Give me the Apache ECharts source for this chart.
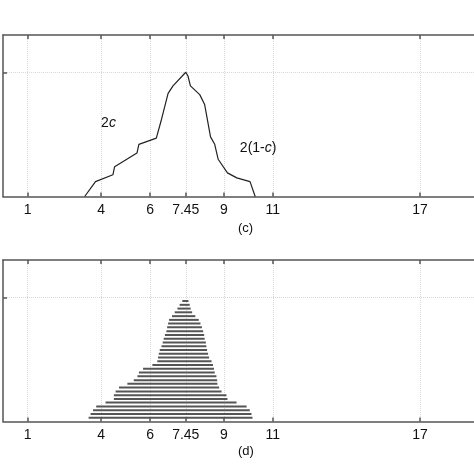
<!DOCTYPE html>
<html>
<head>
<meta charset="utf-8">
<script src="https://cdn.jsdelivr.net/npm/echarts@6/dist/echarts.min.js"></script>
<style>
html,body{margin:0;padding:0;background:#fff;}
#chart{width:474px;height:474px;}
</style>
</head>
<body>
<div id="chart"></div>
<script>
// x tick positions / labels
const xTicks = [1, 4, 6, 7.45, 9, 11, 17];
// (c) membership curve
const curveX = [3.33, 3.77, 4.48, 4.55, 5.46, 5.54, 6.25, 6.46, 6.73, 6.93, 7.45, 7.54, 7.64, 8.02, 8.22, 8.46, 8.63, 8.77, 9.15, 9.53, 10.07, 10.28];
const curveY = [0, 0.12, 0.175, 0.24, 0.35, 0.42, 0.47, 0.62, 0.83, 0.89, 1.0, 0.97, 0.89, 0.82, 0.74, 0.48, 0.42, 0.30, 0.19, 0.15, 0.12, 0];
// (d) alpha-cut levels and interval ends
const levels = [0.030,0.061,0.091,0.121,0.152,0.182,0.212,0.242,0.273,0.303,0.333,0.364,0.394,0.424,0.455,0.485,0.515,0.545,0.576,0.606,0.636,0.667,0.697,0.727,0.758,0.788,0.818,0.848,0.879,0.909,0.939,0.970];
const cutLeft = [3.49,3.57,3.67,3.80,4.18,4.52,4.52,4.59,4.73,5.07,5.33,5.48,5.54,5.71,6.09,6.29,6.32,6.35,6.39,6.46,6.51,6.55,6.60,6.66,6.69,6.73,6.77,6.89,7.00,7.11,7.20,7.31];
const cutRight = [10.17,10.13,10.06,9.93,9.52,9.15,9.11,8.91,8.81,8.74,8.73,8.70,8.63,8.60,8.56,8.50,8.40,8.36,8.32,8.29,8.27,8.22,8.20,8.16,8.11,8.05,7.98,7.84,7.71,7.65,7.61,7.56];
const panelLabels = ['(c)', '(d)'];

const chart = echarts.init(document.getElementById('chart'), null, {renderer: 'canvas'});
const frameColor = '#555';
const font = 'Liberation Sans, Arial, sans-serif';
const X_MAX = 19.2;

function xAxisBottom(gi) {
  return {
    type: 'value', gridIndex: gi, position: 'bottom', min: 0, max: X_MAX,
    axisLine: {show: true, onZero: false, lineStyle: {color: frameColor, width: 1.5}},
    axisTick: {show: true, inside: true, length: 4, customValues: xTicks, lineStyle: {color: frameColor, width: 1.5}},
    axisLabel: {show: true, customValues: xTicks, color: '#111', fontSize: 14, fontFamily: font, margin: 7,
      formatter: v => String(v)},
    splitLine: {show: true, lineStyle: {color: '#d8d8d8', type: 'dotted', width: 1}}
  };
}
function xAxisTop(gi) {
  return {
    type: 'value', gridIndex: gi, position: 'top', min: 0, max: X_MAX,
    axisLine: {show: true, onZero: false, lineStyle: {color: frameColor, width: 1.5}},
    axisTick: {show: true, inside: true, length: 4, customValues: xTicks, lineStyle: {color: frameColor, width: 1.5}},
    axisLabel: {show: false},
    splitLine: {show: false}
  };
}
function yAxis(gi) {
  return {
    type: 'value', gridIndex: gi, min: 0, max: 1.3, interval: 1,
    axisLine: {show: true, onZero: false, lineStyle: {color: frameColor, width: 1.5}},
    axisTick: {show: true, inside: true, length: 4, customValues: [1], lineStyle: {color: frameColor, width: 1.5}},
    axisLabel: {show: false},
    splitLine: {show: true, lineStyle: {color: '#d8d8d8', type: 'dotted', width: 1}}
  };
}

const cutData = levels.map((y, i) => [cutLeft[i], cutRight[i], y]);

chart.setOption({
  animation: false,
  backgroundColor: '#fff',
  grid: [
    {left: 3, top: 35, right: 0, height: 161.5},
    {left: 3, top: 260, right: 0, height: 161.5}
  ],
  xAxis: [xAxisBottom(0), xAxisTop(0), xAxisBottom(1), xAxisTop(1)],
  yAxis: [yAxis(0), yAxis(1)],
  graphic: [
    {type: 'text', left: 238, top: 222, style: {text: panelLabels[0], font: '13px ' + font, fill: '#111'}},
    {type: 'text', left: 238, top: 445, style: {text: panelLabels[1], font: '13px ' + font, fill: '#111'}}
  ],
  series: [
    {
      type: 'line', xAxisIndex: 0, yAxisIndex: 0, symbol: 'none',
      lineStyle: {color: '#222', width: 1.2},
      data: curveX.map((x, i) => [x, curveY[i]]),
      markPoint: {
        symbol: 'rect', symbolSize: 0,
        label: {show: true, position: 'inside', fontSize: 14, fontFamily: font, color: '#111',
          rich: {n: {fontSize: 14, fontFamily: font, color: '#111'}, i: {fontSize: 14, fontFamily: font, color: '#111', fontStyle: 'italic'}}},
        data: [
          {coord: [4.3, 0.594], value: 0, label: {formatter: '{n|2}{i|c}'}},
          {coord: [10.4, 0.39], value: 0, label: {formatter: '{n|2(1-}{i|c}{n|)}'}}
        ]
      }
    },
    {
      type: 'custom', xAxisIndex: 2, yAxisIndex: 1,
      data: cutData,
      encode: {x: [0, 1], y: 2},
      renderItem: function (params, api) {
        const p1 = api.coord([api.value(0), api.value(2)]);
        const p2 = api.coord([api.value(1), api.value(2)]);
        return {type: 'line', shape: {x1: p1[0], y1: p1[1], x2: p2[0], y2: p2[1]},
          style: {stroke: '#555', lineWidth: 2}};
      }
    }
  ]
});
</script>
</body>
</html>
